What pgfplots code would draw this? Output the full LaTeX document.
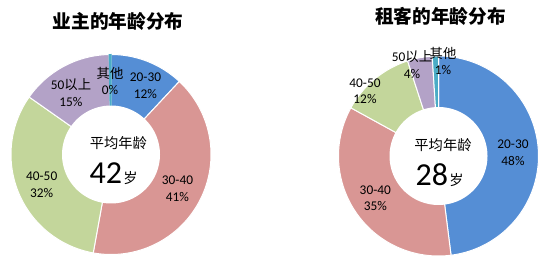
\documentclass[border=0pt]{standalone}
\usepackage{pgfplots}
\pgfplotsset{compat=1.18}
\usepackage{fontspec}
\setmainfont{Carlito}
\newfontfamily\cjk{Noto Sans CJK SC}
\definecolor{c1}{RGB}{85,142,213}
\definecolor{c2}{RGB}{217,150,148}
\definecolor{c3}{RGB}{195,214,155}
\definecolor{c4}{RGB}{179,162,199}
\definecolor{c5}{RGB}{75,172,198}
\tikzset{lbl/.style={font=\fontsize{10}{12.5}\selectfont, align=center, inner sep=0pt}}

% donut helpers: running cumulative share, clockwise from 12 o'clock
\newcommand\startdonut[1]{\gdef\cum{0}\gdef\tot{#1}}
\newcommand\slice[6][white]{% [border] #2 cx, #3 cy, #4 outer radius, #5 value, #6 colour
  \pgfmathsetmacro\sa{90-360*(\cum/\tot)}%
  \pgfmathsetmacro\sb{90-360*((\cum+#5)/\tot)}%
  \edef\doslice{\noexpand\addplot[fill=#6,draw=#1,line width=0.75pt,domain=\sb:\sa,samples=80,variable=\noexpand\t]
    ({#2+#4*cos(\noexpand\t)},{#3+#4*sin(\noexpand\t)}) -- (#2,#3) -- cycle;}%
  \doslice
  \pgfmathsetmacro\newcum{\cum+#5}\global\let\cum\newcum
}
\newcommand\hole[3]{% cx, cy, r
  \addplot[fill=white,draw=none,domain=0:360,samples=120,variable=\t]
    ({#1+#3*cos(\t)},{#2+#3*sin(\t)}) -- cycle;
}

\begin{document}
\begin{tikzpicture}
\begin{axis}[
  width=417pt, height=196.5pt, scale only axis,
  xmin=0, xmax=556, ymin=0, ymax=262,
  hide axis, clip=false,
]
% ---------- owners (业主) ----------
\startdonut{100.3}
\slice{111}{107.5}{100}{12}{c1}   % 20-30
\slice{111}{107.5}{100}{41}{c2}   % 30-40
\slice{111}{107.5}{100}{32}{c3}   % 40-50
\slice{111}{107.5}{100}{15}{c4}   % 50以上
\slice[c5]{111}{107.5}{100}{0.3}{c5}  % 其他 (0%)
\hole{111}{107.5}{49}

% ---------- tenants (租客) ----------
\startdonut{100}
\slice{438.5}{106}{100}{48}{c1}   % 20-30
\slice{438.5}{106}{100}{35}{c2}   % 30-40
\slice{438.5}{106}{100}{12}{c3}   % 40-50
\slice{438.5}{106}{100}{4}{c4}    % 50以上
\slice{438.5}{106}{100}{1}{c5}    % 其他
\hole{438.5}{106}{49}

% titles
\node[font=\fontsize{14}{16}\selectfont\cjk\bfseries] at (118.3,240.3) {业主的年龄分布};
\node[font=\fontsize{14}{16}\selectfont\cjk\bfseries] at (440.5,245.3) {租客的年龄分布};

% left labels
\node[lbl] at (145.5,176) {20-30\\12\%};
\node[lbl] at (177.5,73) {30-40\\41\%};
\node[lbl] at (41.7,77.3) {40-50\\32\%};
\node[lbl] at (71,169.5) {50{\cjk 以上}\\15\%};
\node[lbl] at (110,181) {{\cjk 其他}\\0\%};

% right labels
\node[lbl] at (513,109.5) {20-30\\48\%};
\node[lbl] at (375.3,63.7) {30-40\\35\%};
\node[lbl] at (365,170.7) {40-50\\12\%};
\node[lbl] at (412,197.7) {50{\cjk 以上}\\4\%};
\node[lbl] at (443,201.2) {{\cjk 其他}\\1\%};

% centre texts
\node[font=\fontsize{10.7}{12}\selectfont\cjk] at (118.3,118.7) {平均年龄};
\node[anchor=base west, inner sep=0pt] at (89.3,78.7) {\fontsize{24}{24}\selectfont 42\hspace{1pt}{\fontsize{10.7}{12}\selectfont\cjk 岁}};
\node[font=\fontsize{10.7}{12}\selectfont\cjk] at (443,117) {平均年龄};
\node[anchor=base west, inner sep=0pt] at (415.3,77) {\fontsize{24}{24}\selectfont 28\hspace{1pt}{\fontsize{10.7}{12}\selectfont\cjk 岁}};
\end{axis}
\path (current axis.south west) rectangle (current axis.north east);
\end{tikzpicture}
\end{document}
